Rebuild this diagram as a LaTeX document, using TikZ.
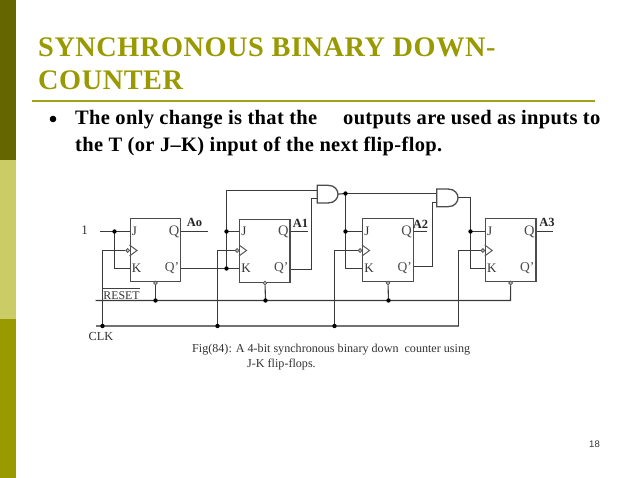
\documentclass[tikz,border=0pt]{standalone}
\usepackage{fontspec}
\setmainfont{Liberation Serif}
\setsansfont{Liberation Sans}
\definecolor{oliveD}{HTML}{666600}
\definecolor{oliveL}{HTML}{CCCC66}
\definecolor{oliveM}{HTML}{999900}
\definecolor{wirec}{HTML}{3A3A3A}
\pgfdeclarelayer{paper}
\pgfdeclarelayer{wires}
\pgfsetlayers{paper,wires,main}
\tikzset{
  wire/.style={draw=wirec,line width=1.1pt},
  clkwire/.style={draw=black!55,line width=1.7pt},
  ffbox/.style={draw=black!70,line width=1.3pt,fill=white,inner sep=0pt},
  jdot/.style={circle,fill=black,inner sep=0pt,minimum size=4.4pt},
  bub/.style={circle,draw=black!65,fill=black!25,line width=0.8pt,inner sep=0pt,minimum size=3.8pt},
  lab/.style={inner sep=0pt,anchor=base,font=\fontsize{13}{14}\selectfont,text=black!80},
  blab/.style={inner sep=0pt,anchor=base,font=\fontsize{12.5}{13}\selectfont\bfseries,text=black!85},
  figt/.style={inner sep=0pt,anchor=base west,font=\fontsize{12.1}{13}\selectfont,text=black!80},
  titlet/.style={inner sep=0pt,anchor=base west,text=oliveM,font=\fontsize{28.3}{32}\selectfont\bfseries\addfontfeatures{LetterSpace=2}},
  bodyt/.style={inner sep=0pt,anchor=base west,text=black,font=\fontsize{20.5}{24}\selectfont\bfseries\addfontfeatures{LetterSpace=1.6}}
}
\newcommand{\flipflop}[6]{% name, left, top, width, height, Qprime y
  \node[ffbox,anchor=north west,minimum width=#4pt,minimum height=#5pt] (#1) at (#2,#3) {};
  \coordinate (#1J) at (#2,231.5);
  \coordinate (#1K) at (#2,268.5);
  \coordinate (#1C) at (#2,250.5);
  \coordinate (#1Q) at (#2+#4,231.5);
  \coordinate (#1P) at (#2+#4,#6);
  \draw[draw=black!65,line width=1pt] (#2,245) -- (#2+7.5,250.5) -- (#2,256);
  \node[lab] (#1lj) at (#2+5,236) {J};
  \node[lab] (#1lk) at (#2+7,273) {K};
  \node[lab,text=black!70,font=\fontsize{14.5}{15}\selectfont] (#1lq) at (#2+#4-6,236) {Q};
  \node[lab,text=black!70,font=\fontsize{13.5}{14}\selectfont] (#1lp) at (#2+#4-8,272) {Q'};
  \node[bub] (#1b) at (#2-1.8,250.5) {};
  \node[bub] (#1r) at (#2+26,283) {};
}
\newcommand{\andgate}[5]{% name, left, top, right, bottom
  \draw[draw=black!70,line width=1.3pt,fill=white] (#2,#3) -- (#4-10,#3) .. controls (#4-3,#3) and (#4,#3+5) .. (#4,{(#3+#5)/2}) .. controls (#4,#5-5) and (#4-3,#5) .. (#4-10,#5) -- (#2,#5) -- cycle;
  \coordinate (#1o) at (#4,{(#3+#5)/2});
}
\begin{document}
\begin{tikzpicture}[x=1pt,y=-1pt]
\useasboundingbox (0,0) rectangle (638,478);
\begin{pgfonlayer}{paper}
\fill[white] (0,0) rectangle (638,478);
\fill[oliveD] (0,0) rectangle (16,160);
\fill[oliveL] (0,160) rectangle (16,319);
\fill[oliveM] (0,319) rectangle (16,478);
\end{pgfonlayer}
\node[titlet] (t1) at (38,56.5) {SYNCHRONOUS BINARY DOWN-};
\node[titlet] (t2) at (38,90) {COUNTER};
\draw[draw=oliveM!90!white,line width=1.2pt] (32,101) -- (595,101);
\fill[black] (53,119) circle (3.3pt);
\node[bodyt] (b1a) at (75,125) {The only change is that the};
\node[bodyt] (b1b) at (343,125) {outputs are used as inputs to};
\node[bodyt] (b2) at (75,152) {the T (or J–K) input of the next flip-flop.};

% flip-flops
\flipflop{a}{129.5}{218}{50.5}{63}{268.5}
\flipflop{b}{239}{219}{50.3}{62.7}{269.5}
\flipflop{c}{362}{218}{50.7}{63}{266.5}
\flipflop{d}{484.7}{218}{50.6}{63}{266.5}
\andgate{g}{317.3}{185.3}{338}{203}
\andgate{h}{436.7}{189}{458}{206.7}

% free points
\coordinate (one) at (100,231.5);
\coordinate (aout) at (207.7,231.5);
\coordinate (bout) at (308,231.5);
\coordinate (cout) at (427,231.5);
\coordinate (dout) at (553,231.5);
\coordinate (rstL) at (95.7,300.5);
\coordinate (rstR) at (510.5,300.5);
\coordinate (clkL) at (95.7,326);
\coordinate (clkR) at (458.5,326);

% junction dots
\node[jdot] (d1) at (114.5,231.5) {};
\node[jdot] (d2) at (226.5,231.5) {};
\node[jdot] (d3) at (226.5,268.5) {};
\node[jdot] (d4) at (345.5,193.5) {};
\node[jdot] (d5) at (345.5,231.5) {};
\node[jdot] (d6) at (470.5,231.5) {};
\node[jdot] (r1) at (155.5,300.5) {};
\node[jdot] (r2) at (265.5,300.5) {};
\node[jdot] (r3) at (388.5,300.5) {};
\node[jdot] (k1) at (102.5,326) {};
\node[jdot] (k2) at (217.5,326) {};
\node[jdot] (k3) at (334.5,326) {};

% wires
\begin{pgfonlayer}{wires}
\draw[wire] (one) -- (aJ);
\draw[wire] (d1.center) |- (aK);
\draw[wire] (aQ) -- (aout);
\draw[wire] (aP) -- (bK);
\draw[wire] (bJ) -- (d2.center) -- (d3.center);
\draw[wire] (d2.center) |- (317.3,190.5);
\draw[wire] (bQ) -- (bout);
\draw[wire] (bP) -| (311.5,198.5) -- (317.3,198.5);
\draw[wire] (d4.center) -- (436.7,193.5);
\draw[wire] (go) -- (d4.center);
\draw[wire] (d4.center) -- (d5.center);
\draw[wire] (d5.center) |- (cK);
\draw[wire] (d5.center) -- (cJ);
\draw[wire] (cQ) -- (cout);
\draw[wire] (cP) -| (432.5,202.5) -- (436.7,202.5);
\draw[wire] (ho) -| (d6.center);
\draw[wire] (d6.center) |- (dK);
\draw[wire] (d6.center) -- (dJ);
\draw[wire] (dQ) -- (dout);
\draw[wire] (rstL) -- (rstR) -- (dr);
\draw[wire] (r1.center) -- (ar);
\draw[wire] (r2.center) -- (br);
\draw[wire] (r3.center) -- (cr);
\draw[clkwire] (clkL) -- (clkR);
\draw[wire] (k1.center) |- (ab);
\draw[wire] (k2.center) |- (bb);
\draw[wire] (k3.center) |- (cb);
\draw[wire] (clkR) |- (db);
\end{pgfonlayer}

% labels
\node[lab] (lone) at (84.5,235) {1};
\node[lab,font=\fontsize{11.8}{12}\selectfont] (lrst) at (121.5,299.5) {RESET};
\draw[draw=black!75,line width=0.8pt] ([yshift=3.5pt]lrst.north west) -- ([yshift=3.5pt]lrst.north east);
\node[lab,font=\fontsize{12.3}{13}\selectfont] (lclk) at (101,341) {CLK};
\node[blab] (la0) at (194.5,227) {Ao};
\node[blab] (la1) at (300.5,228) {A1};
\node[blab] (la2) at (420.5,229) {A2};
\node[blab] (la3) at (547,227) {A3};
\node[figt] (f1) at (192,353) {Fig(84): A 4-bit synchronous binary down\ \ counter using};
\node[figt] (f2) at (247,368) {J-K flip-flops.};
\node[inner sep=0pt,anchor=base,font=\sffamily\fontsize{9.5}{10}\selectfont,text=black!80] (pg) at (594.5,448) {18};
\end{tikzpicture}
\end{document}
